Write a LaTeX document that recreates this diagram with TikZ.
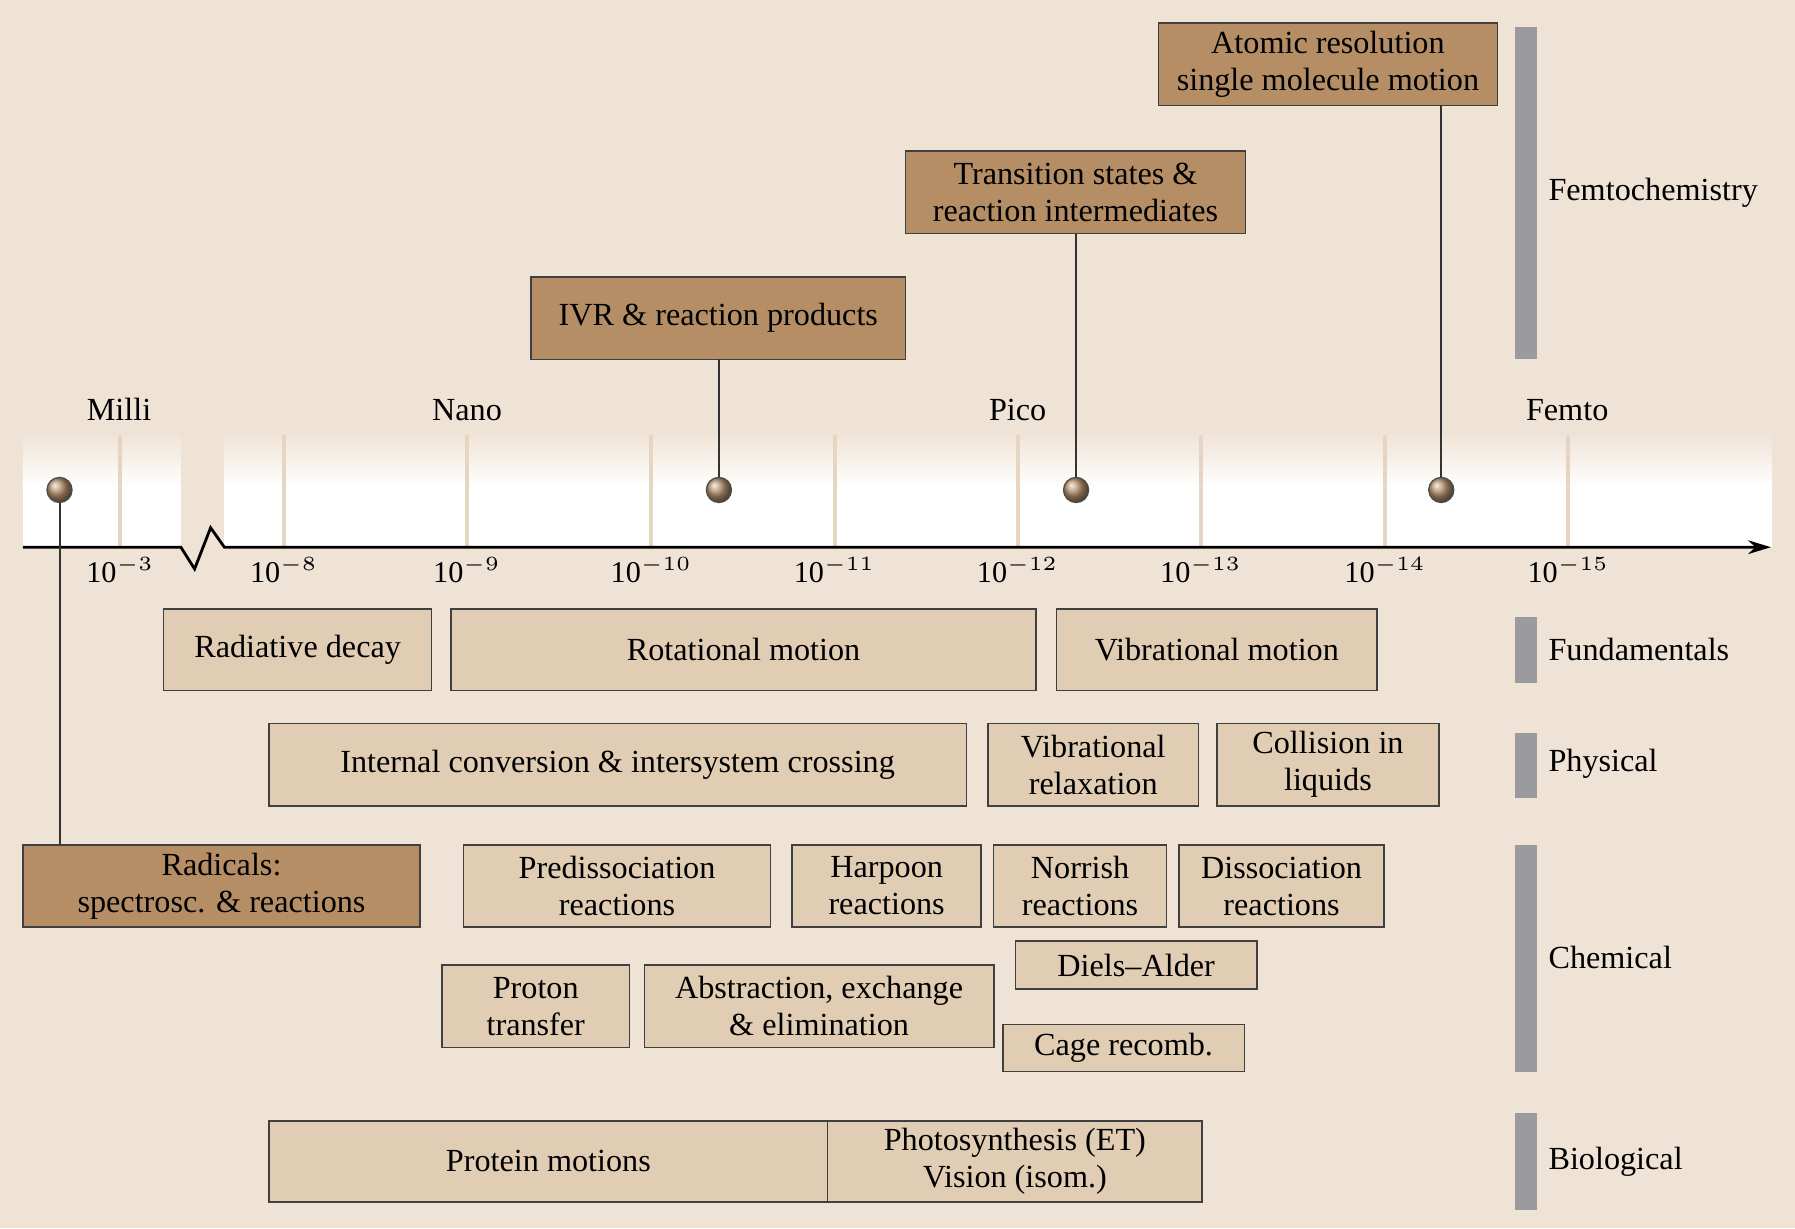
\documentclass[tikz,border=0pt]{standalone}
\usepackage{fontspec}
\setmainfont{Liberation Serif}
\usetikzlibrary{arrows.meta}
\definecolor{bg}{HTML}{EFE3D6}
\definecolor{lbox}{HTML}{E0CDB4}
\definecolor{dbox}{HTML}{B58E66}
\definecolor{gbar}{HTML}{9A9A9F}
\definecolor{tick}{HTML}{E6D5C2}
\tikzset{
 box/.style={draw=black!75,line width=0.4pt,fill=lbox,align=center,inner sep=0pt,font=\fontsize{8}{9.2}\selectfont},
 dark/.style={box,fill=dbox},
 lab/.style={font=\fontsize{8}{9.2}\selectfont,inner sep=0pt},
 expo/.style={font=\fontsize{7.5}{9}\selectfont,inner sep=0pt},
 ball/.style={circle,minimum size=0.22cm,inner sep=0pt,shading=ball,ball color=brown!80!black!70,draw=black!70,line width=0.3pt},
 conn/.style={line width=0.5pt,black!80}
}
\newcommand{\bx}[7]{\node[#6,minimum width={(#4-#2)*0.1mm},minimum height={(#5-#3)*0.1mm}] (#1) at ({(#2+#4)/2},{(#3+#5)/2}) {#7};}
\begin{document}
\begin{tikzpicture}[x=0.01cm,y=-0.01cm]
\fill[bg] (0,0) rectangle (1568,1073);
\useasboundingbox (0,0) rectangle (1568,1073);
% band
\fill[white] (20,425) rectangle (158,478);
\fill[white] (196,425) rectangle (1548,478);
\shade[top color=bg,bottom color=white] (20,378) rectangle (158,426);
\shade[top color=bg,bottom color=white] (196,378) rectangle (1548,426);
\foreach \x in {105,248,408,569,729,889,1049,1210,1370}
  \draw[tick,line width=1pt] (\x,380) -- (\x,477);
\draw[line width=0.7pt,-{Stealth[length=0.2cm,width=0.12cm]}] (20,478) -- (158,478) -- (170,497) -- (184,461) -- (196,478) -- (1547,478);
% labels
\foreach \x/\e in {105/3,248/8,408/9,569/10,729/11,889/12,1049/13,1210/14,1370/15}
  \node[expo] (e\e) at (\x,498) {10$^{-\e}$};
\node[lab] (milli) at (104,358) {Milli};
\node[lab] (nano) at (408,358) {Nano};
\node[lab] (pico) at (889,358) {Pico};
\node[lab] (femto) at (1369,358) {Femto};
% boxes
\bx{atomic}{1012}{20}{1308}{92}{dark}{Atomic resolution\\single molecule motion}
\bx{trans}{791}{132}{1088}{204}{dark}{Transition states \&\\reaction intermediates}
\bx{ivr}{464}{242}{791}{314}{dark}{IVR \& reaction products}
\bx{rad}{143}{532}{377}{603}{box}{Radiative decay}
\bx{rot}{394}{532}{905}{603}{box}{Rotational motion}
\bx{vib}{923}{532}{1203}{603}{box}{Vibrational motion}
\bx{ic}{235}{632}{844}{704}{box}{Internal conversion \& intersystem crossing}
\bx{vr}{863}{632}{1047}{704}{box}{Vibrational\\relaxation}
\bx{col}{1063}{632}{1257}{704}{box}{Collision in\\liquids}
\bx{radic}{20}{738}{367}{810}{dark}{Radicals:\\spectrosc. \& reactions}
\bx{pre}{405}{738}{673}{810}{box}{Predissociation\\reactions}
\bx{harp}{692}{738}{857}{810}{box}{Harpoon\\reactions}
\bx{nor}{868}{738}{1019}{810}{box}{Norrish\\reactions}
\bx{dis}{1030}{738}{1209}{810}{box}{Dissociation\\reactions}
\bx{diels}{887}{822}{1098}{864}{box}{Diels--Alder}
\bx{prot}{386}{843}{550}{915}{box}{Proton\\transfer}
\bx{abs}{563}{843}{868}{915}{box}{Abstraction, exchange\\\& elimination}
\bx{cage}{876}{895}{1087}{936}{box}{Cage recomb.}
\bx{protein}{235}{979}{723}{1050}{box}{Protein motions}
\bx{photo}{723}{979}{1050}{1050}{box}{Photosynthesis (ET)\\Vision (isom.)}
% balls and connectors
\node[ball] (b1) at (52,428) {};
\node[ball] (b2) at (628,428) {};
\node[ball] (b3) at (940,428) {};
\node[ball] (b4) at (1259,428) {};
\draw[conn] (b1) -- (52,738);
\draw[conn] (b2) -- (628,314);
\draw[conn] (b3) -- (940,204);
\draw[conn] (b4) -- (1259,92);
% gray bars
\foreach \a/\b in {24/314,539/597,640/697,738/936,972/1057}
  \fill[gbar] (1323,\a) rectangle (1343,\b);
\node[lab,anchor=west] (l1) at (1352,168) {Femtochemistry};
\node[lab,anchor=west] (l2) at (1352,567) {Fundamentals};
\node[lab,anchor=west] (l3) at (1352,667) {Physical};
\node[lab,anchor=west] (l4) at (1352,836) {Chemical};
\node[lab,anchor=west] (l5) at (1352,1015) {Biological};
\end{tikzpicture}
\end{document}
